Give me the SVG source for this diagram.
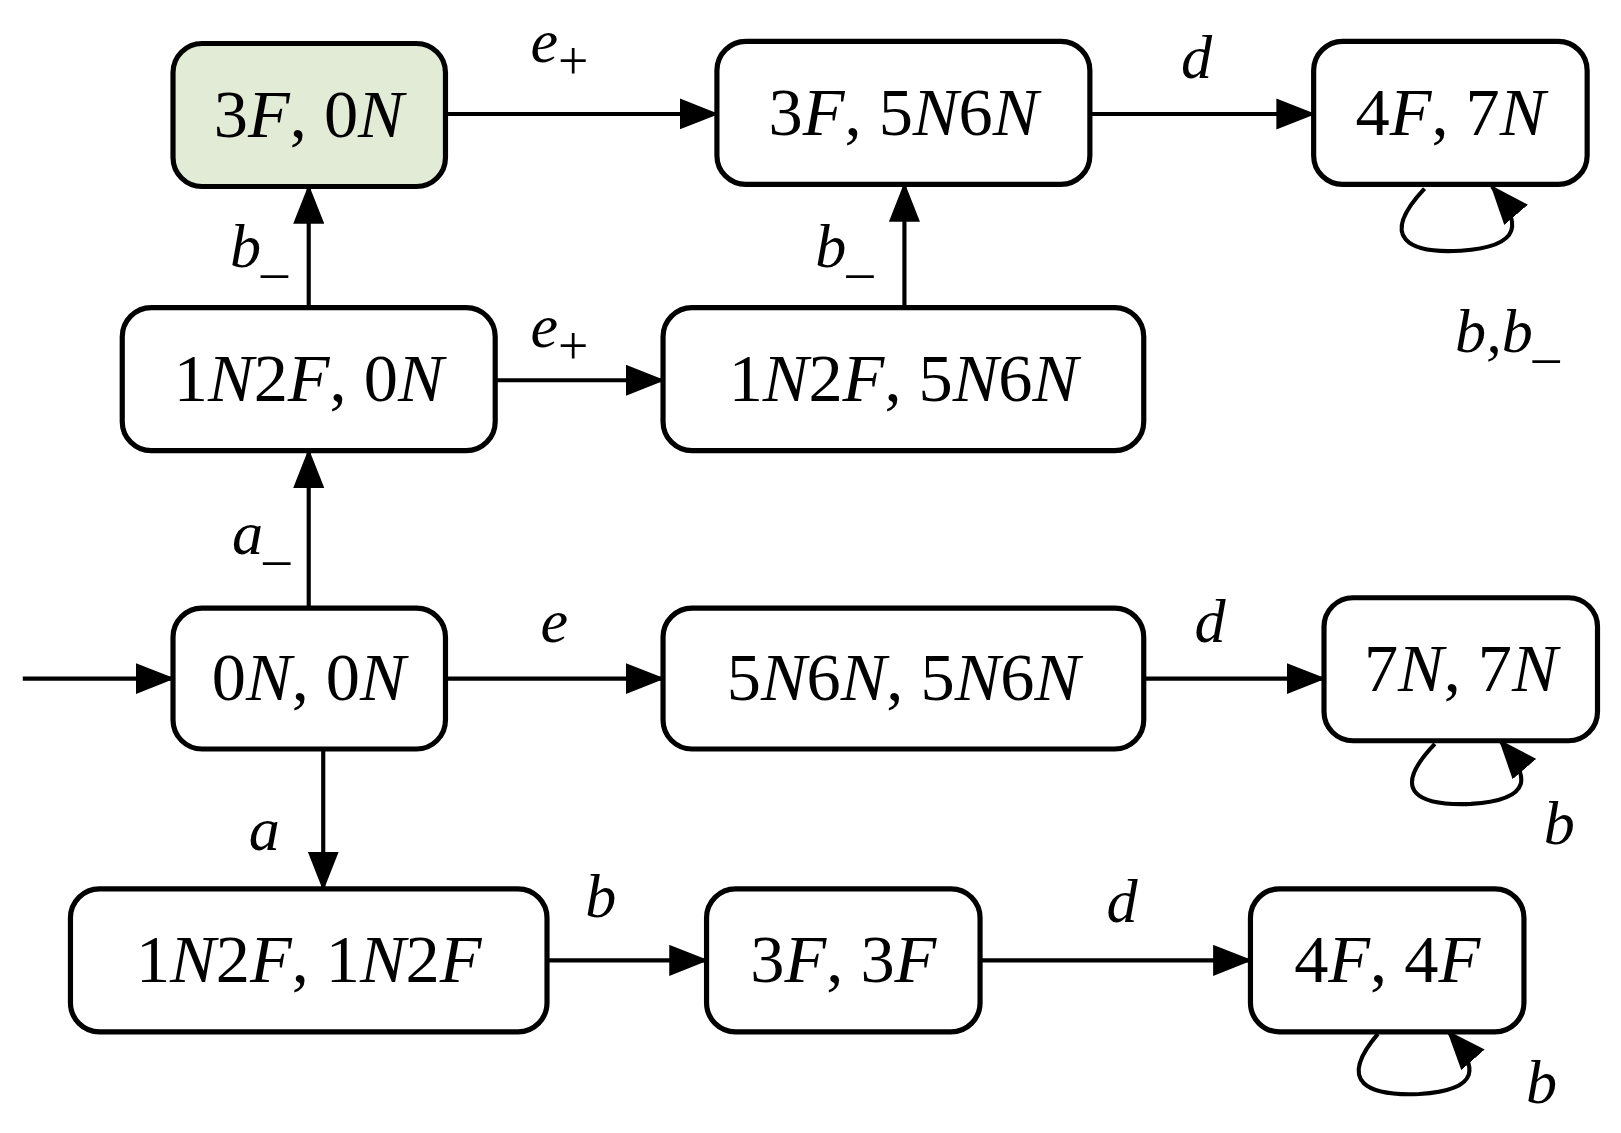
<svg xmlns="http://www.w3.org/2000/svg" width="1621" height="1133" viewBox="0 0 1621 1133">
<style>
.n rect{fill:#fff;stroke:#000;stroke-width:5}
.t{font-family:"Liberation Serif",serif;font-size:66px;text-anchor:middle}
.i{font-style:italic}
.c path{fill:none;stroke:#000;stroke-width:4}
.l{font-family:"Liberation Serif",serif;font-size:60px;font-style:italic;text-anchor:middle}
.s{font-size:52px;font-style:normal}
</style>
<defs><marker id="a" markerUnits="userSpaceOnUse" markerWidth="38" markerHeight="30" refX="36" refY="15" orient="auto"><path d="M0,0L38,15L0,30z" fill="#000"/></marker></defs>
<rect width="1621" height="1133" fill="#fff"/>
<g transform="scale(1.036)">
<g id="n1" class="n"><rect x="167" y="42" width="263" height="138" rx="28" style="fill:#e2ebd6"/><text class="t" x="298" y="132">3<tspan class="i">F</tspan>, 0<tspan class="i">N</tspan></text></g>
<g id="n2" class="n"><rect x="692" y="40" width="360" height="138" rx="28"/><text class="t" x="872" y="130">3<tspan class="i">F</tspan>, 5<tspan class="i">N</tspan>6<tspan class="i">N</tspan></text></g>
<g id="n3" class="n"><rect x="1268" y="40" width="264" height="138" rx="28"/><text class="t" x="1400" y="130">4<tspan class="i">F</tspan>, 7<tspan class="i">N</tspan></text></g>
<g id="n4" class="n"><rect x="118" y="297" width="360" height="138" rx="28"/><text class="t" x="298" y="387">1<tspan class="i">N</tspan>2<tspan class="i">F</tspan>, 0<tspan class="i">N</tspan></text></g>
<g id="n5" class="n"><rect x="640" y="297" width="464" height="138" rx="28"/><text class="t" x="872" y="387">1<tspan class="i">N</tspan>2<tspan class="i">F</tspan>, 5<tspan class="i">N</tspan>6<tspan class="i">N</tspan></text></g>
<g id="n6" class="n"><rect x="167" y="587" width="263" height="136" rx="28"/><text class="t" x="298" y="676">0<tspan class="i">N</tspan>, 0<tspan class="i">N</tspan></text></g>
<g id="n7" class="n"><rect x="640" y="587" width="464" height="136" rx="28"/><text class="t" x="872" y="676">5<tspan class="i">N</tspan>6<tspan class="i">N</tspan>, 5<tspan class="i">N</tspan>6<tspan class="i">N</tspan></text></g>
<g id="n8" class="n"><rect x="1278" y="577" width="264" height="138" rx="28"/><text class="t" x="1410" y="667">7<tspan class="i">N</tspan>, 7<tspan class="i">N</tspan></text></g>
<g id="n9" class="n"><rect x="68" y="858" width="460" height="138" rx="28"/><text class="t" x="298" y="948">1<tspan class="i">N</tspan>2<tspan class="i">F</tspan>, 1<tspan class="i">N</tspan>2<tspan class="i">F</tspan></text></g>
<g id="n10" class="n"><rect x="682" y="858" width="264" height="138" rx="28"/><text class="t" x="814" y="948">3<tspan class="i">F</tspan>, 3<tspan class="i">F</tspan></text></g>
<g id="n11" class="n"><rect x="1207" y="858" width="264" height="138" rx="28"/><text class="t" x="1339" y="948">4<tspan class="i">F</tspan>, 4<tspan class="i">F</tspan></text></g>
<g id="edges" class="c">
<path d="M430,110H692" marker-end="url(#a)"/>
<path d="M1052,110H1268" marker-end="url(#a)"/>
<path d="M298,297V180" marker-end="url(#a)"/>
<path d="M873,297V178" marker-end="url(#a)"/>
<path d="M478,367H640" marker-end="url(#a)"/>
<path d="M298,587V435" marker-end="url(#a)"/>
<path d="M22,655H167" marker-end="url(#a)"/>
<path d="M430,655H640" marker-end="url(#a)"/>
<path d="M1104,655H1278" marker-end="url(#a)"/>
<path d="M312,723V858" marker-end="url(#a)"/>
<path d="M528,927H682" marker-end="url(#a)"/>
<path d="M946,927H1207" marker-end="url(#a)"/>
<path d="M1375,182C1330,230 1360,245 1410,242C1470,238 1470,215 1440,180" marker-end="url(#a)"/>
<path d="M1385,718C1340,765 1370,778 1420,776C1480,772 1478,750 1448,715" marker-end="url(#a)"/>
<path d="M1330,998C1290,1045 1320,1058 1370,1056C1430,1052 1428,1030 1398,996" marker-end="url(#a)"/>
</g>
<g id="labels">
<text class="l" x="540" y="60">e<tspan class="s" dy="16">+</tspan></text>
<text class="l" x="1155" y="75">d</text>
<text class="l" x="250" y="258">b<tspan class="s" dy="4">_</tspan></text>
<text class="l" x="815" y="258">b<tspan class="s" dy="4">_</tspan></text>
<text class="l" x="540" y="335">e<tspan class="s" dy="16">+</tspan></text>
<text class="l" x="1455" y="340">b,b<tspan class="s" dy="4">_</tspan></text>
<text class="l" x="252" y="535">a<tspan class="s" dy="4">_</tspan></text>
<text class="l" x="535" y="620">e</text>
<text class="l" x="1168" y="620">d</text>
<text class="l" x="1505" y="815">b</text>
<text class="l" x="255" y="820">a</text>
<text class="l" x="580" y="885">b</text>
<text class="l" x="1083" y="890">d</text>
<text class="l" x="1488" y="1065">b</text>
</g>
</g>
</svg>
